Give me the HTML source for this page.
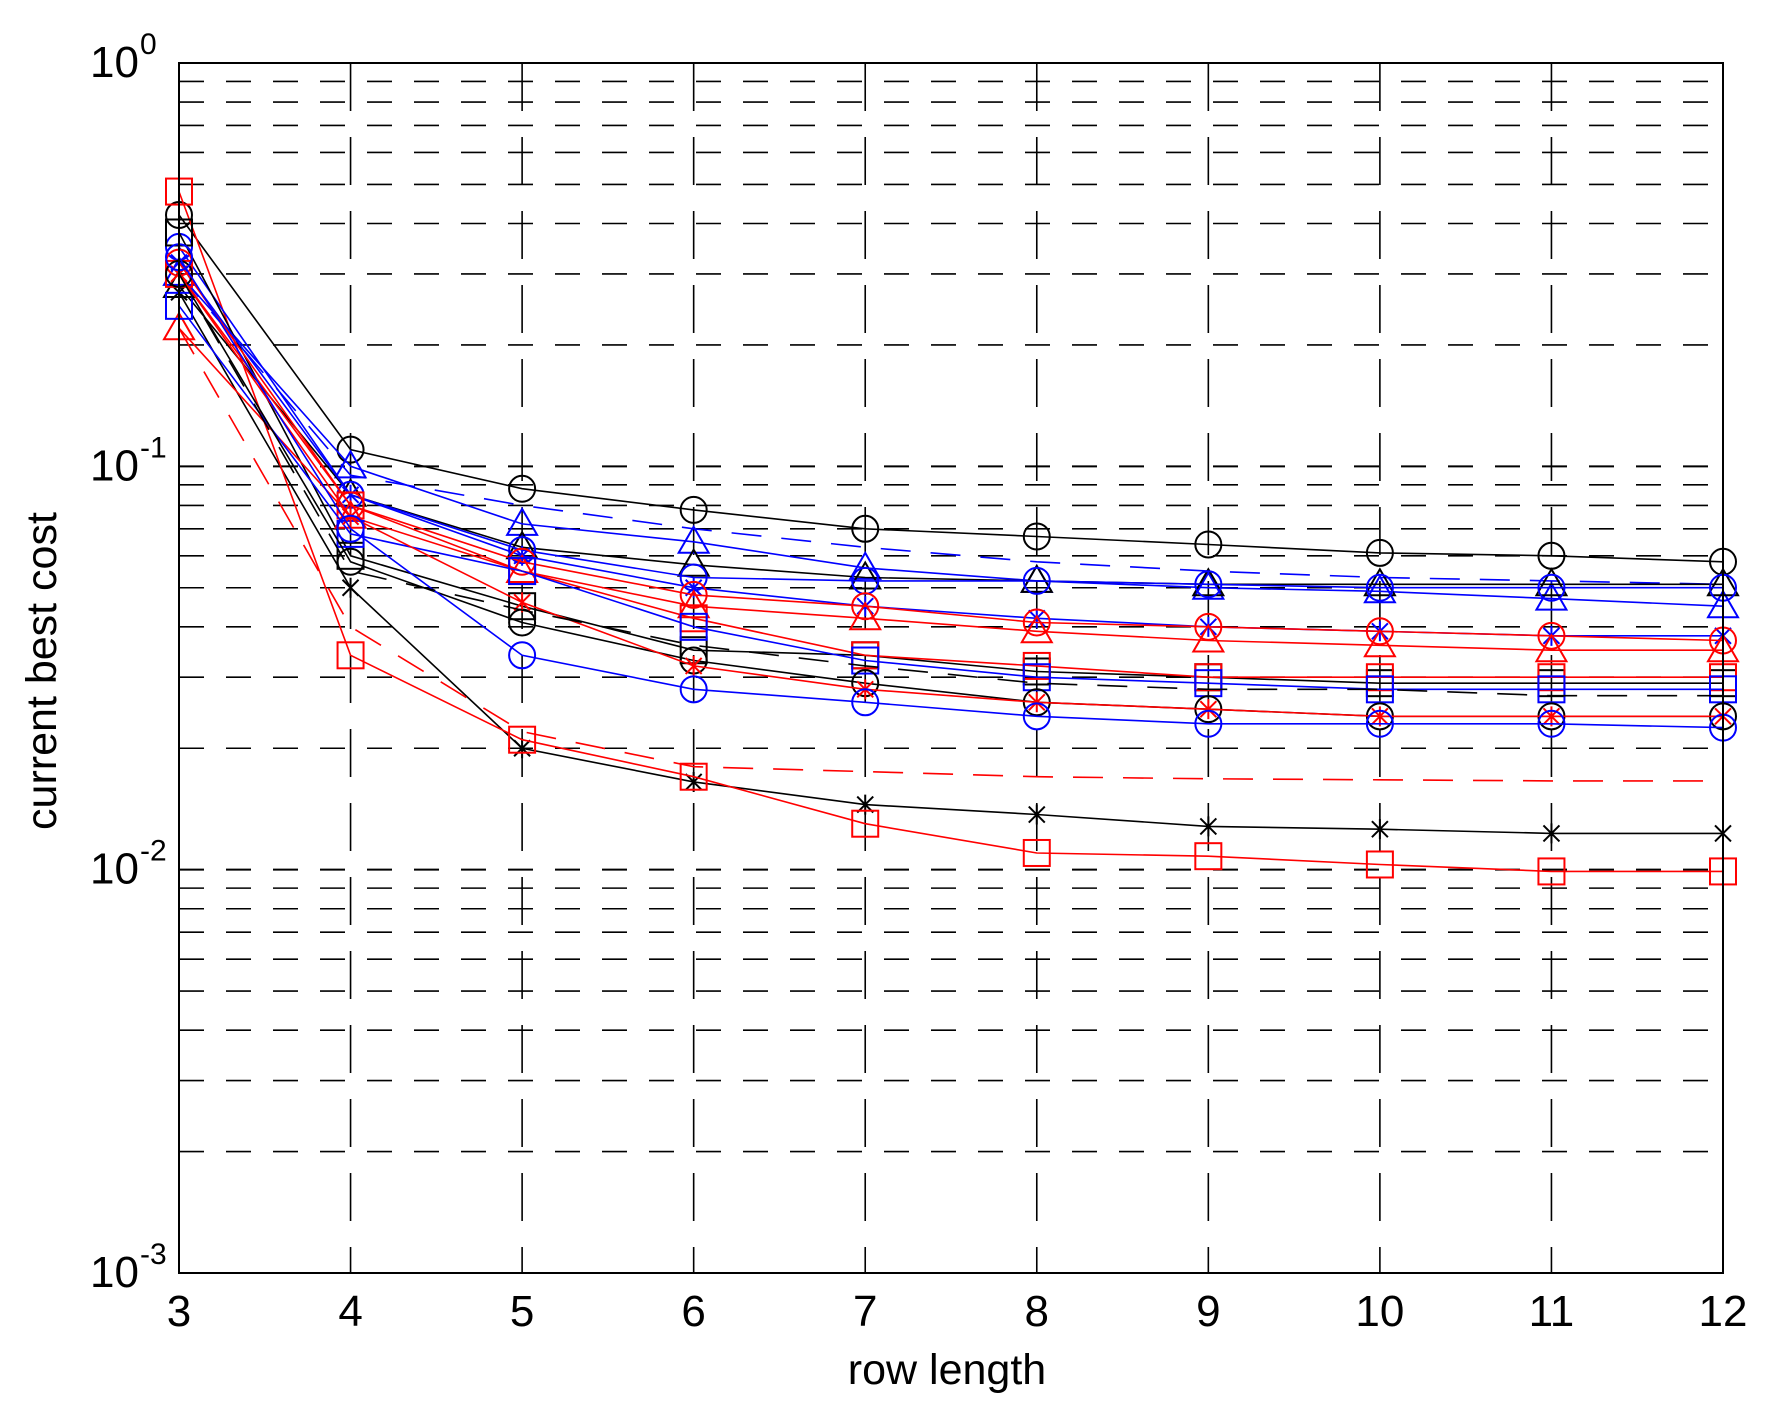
<!DOCTYPE html>
<html><head><meta charset="utf-8"><style>html,body{margin:0;padding:0;background:#fff}svg{display:block}</style></head>
<body>
<svg id="s" width="1768" height="1415" xmlns="http://www.w3.org/2000/svg" font-family="Liberation Sans, Arial, sans-serif">
<rect width="1768" height="1415" fill="#fff"/>
<g id="grid"></g>
<g id="series"></g>
<rect x="179" y="63" width="1544" height="1210" fill="none" stroke="#000" stroke-width="2"/>
<g id="labels" font-size="44" fill="#000"></g>
<text x="947" y="1384" font-size="43" text-anchor="middle">row length</text>
<text transform="translate(56,671) rotate(-90)" font-size="43" text-anchor="middle">current best cost</text>
</svg>
<script>
const NS="http://www.w3.org/2000/svg";
const L=179,R=1723,T=63,B=1273,dec=(B-T)/3;
const X=x=>L+(x-3)*(R-L)/9;
const Y=v=>T-Math.log10(v)*dec;
function el(p,tag,a){const e=document.createElementNS(NS,tag);for(const k in a)e.setAttribute(k,a[k]);p.appendChild(e);return e;}
const g=document.getElementById('grid');
for(let d=-3;d<0;d++)for(let m=1;m<10;m++){const v=m*Math.pow(10,d);if(d==-3&&m==1)continue;const y=Y(v);
 el(g,'line',{x1:L,x2:R,y1:y,y2:y,stroke:'#000','stroke-width':m==1?2:1.6,'stroke-dasharray':'25,22'});}
for(let x=4;x<12;x++)el(g,'line',{x1:X(x),x2:X(x),y1:T,y2:B,stroke:'#000','stroke-width':1.6,'stroke-dasharray':'48,26'});
const lab=document.getElementById('labels');
for(let x=3;x<=12;x++){const t=el(lab,'text',{x:X(x),y:1326,'text-anchor':'middle'});t.textContent=x;}
[[0,T],[-1,Y(0.1)],[-2,Y(0.01)],[-3,B]].forEach(([e,y])=>{
 const t=el(lab,'text',{x:139,y:y+14,'text-anchor':'end'});t.textContent='10';
 const s=el(lab,'text',{x:140,y:y-9,'font-size':30});s.textContent=e;});
const K='#000',Rd='#ff0000',Bl='#0000ff';
const S=[
[K,'o','-',[0.42,0.11,0.088,0.078,0.07,0.067,0.064,0.061,0.06,0.058]],
[K,'*','-',[0.27,0.05,0.02,0.0165,0.0145,0.0137,0.0128,0.0126,0.0123,0.0123]],
[Rd,'s','-',[0.48,0.034,0.021,0.017,0.013,0.011,0.0108,0.0103,0.0099,0.0099]],
[Rd,'','--',[0.22,0.04,0.022,0.018,0.0175,0.017,0.0168,0.0167,0.0166,0.0166]],
[Bl,'^','-',[0.3,0.1,0.072,0.065,0.056,0.052,0.05,0.049,0.047,0.045]],
[Bl,'','--',[0.3,0.095,0.08,0.07,0.063,0.058,0.055,0.053,0.052,0.051]],
[K,'^','-',[0.28,0.085,0.063,0.057,0.053,0.052,0.051,0.051,0.051,0.051]],
[Bl,'o','-',[0.35,0.085,0.062,0.053,0.052,0.052,0.051,0.05,0.05,0.05]],
[K,'s','-',[0.38,0.06,0.045,0.035,0.034,0.031,0.03,0.029,0.029,0.029]],
[Bl,'*','-',[0.32,0.085,0.06,0.05,0.045,0.042,0.04,0.039,0.038,0.038]],
[Rd,'o','-',[0.32,0.08,0.058,0.048,0.045,0.041,0.04,0.039,0.038,0.037]],
[Rd,'^','-',[0.22,0.075,0.055,0.045,0.042,0.039,0.037,0.036,0.035,0.035]],
[Rd,'s','-',[0.3,0.08,0.055,0.042,0.034,0.032,0.03,0.03,0.03,0.03]],
[Bl,'s','-',[0.25,0.068,0.055,0.04,0.033,0.03,0.029,0.028,0.028,0.028]],
[K,'o','-',[0.3,0.058,0.041,0.033,0.029,0.026,0.025,0.024,0.024,0.024]],
[Rd,'*','-',[0.3,0.075,0.046,0.032,0.028,0.026,0.025,0.024,0.024,0.024]],
[Bl,'o','-',[0.33,0.07,0.034,0.028,0.026,0.024,0.023,0.023,0.023,0.0225]],
[K,'','--',[0.3,0.055,0.044,0.036,0.032,0.029,0.028,0.028,0.027,0.027]]
];
const sg=document.getElementById('series');
S.forEach(([c,m,ls,d])=>{
 const pts=d.map((v,i)=>X(i+3).toFixed(1)+','+Y(v).toFixed(1)).join(' ');
 const a={points:pts,fill:'none',stroke:c,'stroke-width':1.6};
 if(ls=='--')a['stroke-dasharray']='30,20';
 el(sg,'polyline',a);
 if(!m)return;
 d.forEach((v,i)=>{const x=X(i+3),y=Y(v),r=13;
  if(m=='o')el(sg,'circle',{cx:x,cy:y,r:r,fill:'none',stroke:c,'stroke-width':2});
  else if(m=='s')el(sg,'rect',{x:x-r,y:y-r,width:2*r,height:2*r,fill:'none',stroke:c,'stroke-width':2});
  else if(m=='^')el(sg,'polygon',{points:`${x},${y-r-2} ${x-r-2},${y+r-2} ${x+r+2},${y+r-2}`,fill:'none',stroke:c,'stroke-width':2});
  else if(m=='*'){const q=8;el(sg,'path',{d:`M${x-q},${y-q}L${x+q},${y+q}M${x-q},${y+q}L${x+q},${y-q}M${x},${y-q-2}L${x},${y+q+2}`,stroke:c,'stroke-width':2});}
 });
});
</script>
</body></html>
